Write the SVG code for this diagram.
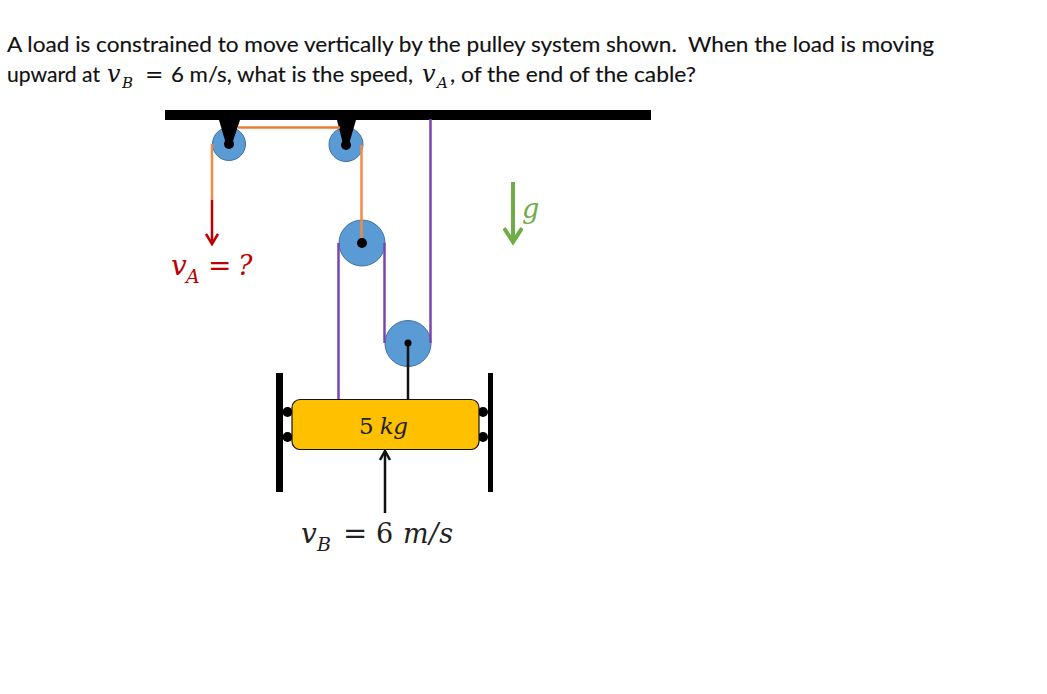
<svg xmlns="http://www.w3.org/2000/svg" width="1047" height="694" viewBox="0 0 1047 694">
<style>
.t{font-family:"Lato","Open Sans",sans-serif;font-size:22px;fill:#111;stroke:#111;stroke-width:0.15px;white-space:pre}
.m{font-family:"DejaVu Serif","Liberation Serif",serif}
.i{font-style:italic}
.p{fill:#5B9BD5;stroke:#41719C;stroke-width:1}
.k{fill:#000}
.o{fill:none;stroke:#F08A45;stroke-width:2.5}
.v{fill:none;stroke:#7B45AE;stroke-width:2.5}
.w{fill:none;stroke:#000;stroke-width:7}
</style>
<defs>
<marker id="red" markerUnits="userSpaceOnUse" markerWidth="14" markerHeight="14" refX="11" refY="7" orient="auto"><path d="M1 1L11 7L1 13" fill="none" stroke="#C00000" stroke-width="2.5"/></marker>
<marker id="blk" markerUnits="userSpaceOnUse" markerWidth="12" markerHeight="14" refX="10" refY="6" orient="auto"><path d="M1 1L10 6L1 11" fill="none" stroke="#111" stroke-width="2.5"/></marker>
<marker id="grn" markerUnits="userSpaceOnUse" markerWidth="20" markerHeight="20" refX="16" refY="10" orient="auto"><path d="M2 1L16 10L2 19" fill="none" stroke="#70AD47" stroke-width="4"/></marker>
</defs>
<g id="question">
<text class="t" x="7" y="52" textLength="927" lengthAdjust="spacingAndGlyphs">A load is constrained to move vertically by the pulley system shown.  When the load is moving</text>
<text class="t" x="7" y="82" textLength="93" lengthAdjust="spacingAndGlyphs">upward at</text>
<text class="m i" x="107" y="82" font-size="24" fill="#111">v</text><text class="m i" x="122" y="88" font-size="15" fill="#111">B</text>
<text class="m" x="145" y="82" font-size="22" fill="#111">=</text>
<text class="t" x="171" y="82" textLength="242" lengthAdjust="spacingAndGlyphs">6 m/s, what is the speed,</text>
<text class="m i" x="422" y="82" font-size="24" fill="#111">v</text><text class="m i" x="437" y="88" font-size="15" fill="#111">A</text>
<text class="t" x="450" y="82" textLength="246" lengthAdjust="spacingAndGlyphs">, of the end of the cable?</text>
</g>
<g id="ceiling"><rect x="165" y="110" width="486" height="10" class="k"/></g>
<g id="pulley-1"><circle cx="229" cy="144" r="16.5" class="p"/><path d="M219 120H240L232 144H226Z" class="k"/><circle cx="229" cy="144" r="5" class="k"/></g>
<g id="pulley-2"><circle cx="346" cy="144.500" r="17" class="p"/><path d="M337 120H356L349 144H343Z" class="k"/><circle cx="346" cy="145" r="5" class="k"/></g>
<g id="pulley-3"><circle cx="362" cy="243" r="23" class="p"/></g>
<g id="pulley-4"><circle cx="408" cy="343.500" r="23" class="p"/></g>
<g id="connectors">
<path d="M238 127.500H340" fill="none" stroke="#ED7D31" stroke-width="2.500"/>
<path d="M212 144V200M361.500 145V240" class="o"/>
<path d="M212 200V244" fill="none" stroke="#C00000" stroke-width="2.500" marker-end="url(#red)"/>
<path d="M338.500 243V399M384.500 243V343M430.500 119V343" class="v"/>
<path d="M408 343V399" fill="none" stroke="#111" stroke-width="2.500"/>
<path d="M385 513V451" fill="none" stroke="#111" stroke-width="2.500" marker-end="url(#blk)"/>
<path d="M513 182V242" fill="none" stroke="#70AD47" stroke-width="4" marker-end="url(#grn)"/>
</g>
<g id="pin-3"><circle cx="362" cy="243" r="5" class="k"/></g>
<g id="pin-4"><circle cx="408" cy="343" r="3.500" class="k"/></g>
<g id="left-wall"><path d="M279.500 373V492" class="w"/><circle cx="287.500" cy="412" r="5" class="k"/><circle cx="287.500" cy="437" r="5" class="k"/></g>
<g id="right-wall"><path d="M490.500 373V492" fill="none" stroke="#000" stroke-width="5"/><circle cx="483" cy="412" r="5" class="k"/><circle cx="483" cy="437" r="5" class="k"/></g>
<g id="load"><rect x="292" y="399.500" width="187" height="50" rx="8" fill="#FFC000" stroke="#111" stroke-width="1.200"/>
<text class="m" x="359" y="434" font-size="23" fill="#222" textLength="49">5 <tspan class="i">kg</tspan></text></g>
<g id="label-va"><text class="m i" x="171" y="275" font-size="28" fill="#C00000">v</text><text class="m i" x="186" y="283" font-size="19" fill="#C00000">A</text><text class="m" x="208" y="275" font-size="28" fill="#C00000">=</text><text class="m i" x="238" y="275" font-size="27" fill="#C00000">?</text></g>
<g id="label-vb"><text class="m i" x="301" y="543" font-size="28" fill="#222">v</text><text class="m i" x="317" y="551" font-size="19" fill="#222">B</text><text class="m" x="343" y="543" font-size="29" fill="#222">=</text><text class="m" x="376" y="543" font-size="27" fill="#222" textLength="77">6 <tspan class="i">m/s</tspan></text></g>
<g id="label-g"><text class="m i" x="522" y="218" font-size="27" fill="#70AD47">g</text></g>
</svg>
